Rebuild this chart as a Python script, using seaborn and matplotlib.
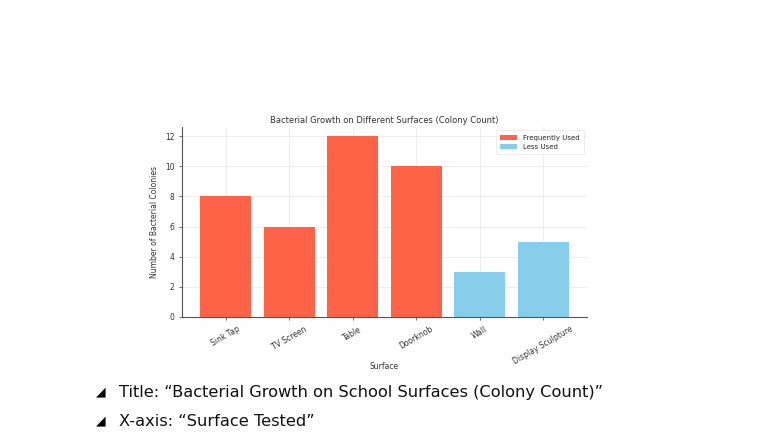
import matplotlib
matplotlib.use("Agg")
import matplotlib.pyplot as plt
import seaborn as sns
import pandas as pd

surfaces = ["Sink Tap", "TV Screen", "Table", "Doorknob", "Wall", "Display Sculpture"]
colonies = [8, 6, 12, 10, 3, 5]
usage = ["Frequently Used", "Frequently Used", "Frequently Used", "Frequently Used", "Less Used", "Less Used"]
palette = {"Frequently Used": "#FF6347", "Less Used": "#87CEEB"}

df = pd.DataFrame({"Surface": surfaces, "Colonies": colonies, "Usage": usage})

sns.set_style("whitegrid")
plt.rcParams["font.family"] = ["DejaVu Sans"]

fig = plt.figure(figsize=(7.84, 4.41), dpi=100)
ax = fig.add_axes([182/784, 1-317/441, (587-182)/784, (317-127)/441])

sns.barplot(data=df, x="Surface", y="Colonies", hue="Usage", palette=palette,
            dodge=False, width=0.8, ax=ax, saturation=1, linewidth=0)

ax.set_xlim(-0.69, 5.69)
ax.set_ylim(0, 12.6)
ax.set_yticks([0, 2, 4, 6, 8, 10, 12])
ax.grid(True, color="#ebebeb", linewidth=0.6)
ax.set_axisbelow(True)
for s in ["top", "right"]:
    ax.spines[s].set_visible(False)
for s in ["left", "bottom"]:
    ax.spines[s].set_color("#555555")
    ax.spines[s].set_linewidth(0.8)
ax.tick_params(axis="both", labelsize=5.5, colors="#333333", length=2, width=0.5, left=True, bottom=True)
plt.setp(ax.get_xticklabels(), rotation=30, ha="center")
ax.set_title("Bacterial Growth on Different Surfaces (Colony Count)", fontsize=6.0, color="#333333", pad=3)
ax.set_xlabel("Surface", fontsize=5.5, color="#333333")
ax.xaxis.set_label_coords(0.5, -0.237)
ax.set_ylabel("Number of Bacterial Colonies", fontsize=5.5, color="#333333", labelpad=4)
leg = ax.legend(loc="upper right", fontsize=5, frameon=True, handlelength=2.5, borderpad=0.6)
leg.get_frame().set_edgecolor("#dddddd")
leg.get_frame().set_linewidth(0.5)

fig.text(96/784, 1-392/441, "◢", fontsize=9, va="center", ha="left", color="black")
fig.text(119/784, 1-392/441, "Title: “Bacterial Growth on School Surfaces (Colony Count)”",
         fontsize=11.7, va="center", ha="left", color="#111111")
fig.text(96/784, 1-421/441, "◢", fontsize=9, va="center", ha="left", color="black")
fig.text(119/784, 1-421/441, "X-axis: “Surface Tested”",
         fontsize=11.7, va="center", ha="left", color="#111111")

fig.savefig("out.png", dpi=100)
